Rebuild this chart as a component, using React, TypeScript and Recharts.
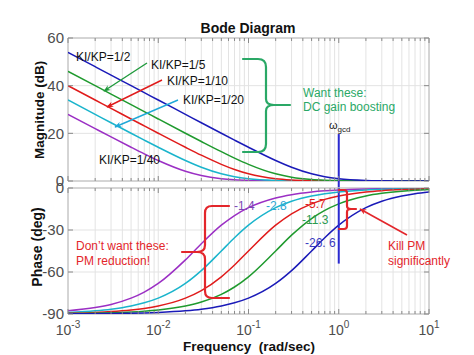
import React from 'react';
import { LineChart, Line, XAxis, YAxis, CartesianGrid, ReferenceLine, ReferenceArea } from 'recharts';

// ---------- data ----------
const freq = [0.001, 0.002, 0.003, 0.005, 0.007, 0.01, 0.02, 0.03, 0.05, 0.07, 0.1, 0.2, 0.3, 0.5, 0.7, 1, 2, 3, 5, 7, 10];

const magHalf = [53.98, 47.96, 44.44, 40.0, 37.08, 33.98, 27.97, 24.45, 20.04, 17.16, 14.15, 8.6, 5.77, 3.01, 1.79, 0.97, 0.26, 0.12, 0.04, 0.02, 0.01];
const magFifth = [46.02, 40.0, 36.48, 32.05, 29.13, 26.03, 20.04, 16.58, 12.3, 9.62, 6.99, 3.01, 1.6, 0.64, 0.34, 0.17, 0.04, 0.02, 0.01, 0.0, 0.0];
const magTenth = [40.0, 33.98, 30.47, 26.03, 23.12, 20.04, 14.15, 10.83, 6.99, 4.83, 3.01, 0.97, 0.46, 0.17, 0.09, 0.04, 0.01, 0.0, 0.0, 0.0, 0.0];
const magTwentieth = [33.98, 27.97, 24.45, 20.04, 17.16, 14.15, 8.6, 5.77, 3.01, 1.79, 0.97, 0.26, 0.12, 0.04, 0.02, 0.01, 0.0, 0.0, 0.0, 0.0, 0.0];
const magFortieth = [27.97, 21.97, 18.48, 14.15, 11.38, 8.6, 4.09, 2.29, 0.97, 0.52, 0.26, 0.07, 0.03, 0.01, 0.01, 0.0, 0.0, 0.0, 0.0, 0.0, 0.0];

const phaseHalf = [-89.89, -89.77, -89.66, -89.43, -89.2, -88.85, -87.71, -86.57, -84.29, -82.03, -78.69, -68.2, -59.04, -45.0, -35.54, -26.57, -14.04, -9.46, -5.71, -4.09, -2.86];
const phaseFifth = [-89.71, -89.43, -89.14, -88.57, -88.0, -87.14, -84.29, -81.47, -75.96, -70.71, -63.43, -45.0, -33.69, -21.8, -15.95, -11.31, -5.71, -3.81, -2.29, -1.64, -1.15];
const phaseTenth = [-89.43, -88.85, -88.28, -87.14, -86.0, -84.29, -78.69, -73.3, -63.43, -55.01, -45.0, -26.57, -18.43, -11.31, -8.13, -5.71, -2.86, -1.91, -1.15, -0.82, -0.57];
const phaseTwentieth = [-88.85, -87.71, -86.57, -84.29, -82.03, -78.69, -68.2, -59.04, -45.0, -35.54, -26.57, -14.04, -9.46, -5.71, -4.09, -2.86, -1.43, -0.95, -0.57, -0.41, -0.29];
const phaseFortieth = [-87.71, -85.43, -83.16, -78.69, -74.36, -68.2, -51.34, -39.81, -26.57, -19.65, -14.04, -7.13, -4.76, -2.86, -2.05, -1.43, -0.72, -0.48, -0.29, -0.2, -0.14];

const seriesKeys = ['fortieth', 'twentieth', 'tenth', 'fifth', 'half'];
const seriesColors = ['#9b2fc4', '#1ab4cc', '#e01b1b', '#1f9a2e', '#1a1ab8'];

const gridTicks = [
  0.001, 0.002, 0.003, 0.004, 0.005, 0.006, 0.007, 0.008, 0.009,
  0.01, 0.02, 0.03, 0.04, 0.05, 0.06, 0.07, 0.08, 0.09,
  0.1, 0.2, 0.3, 0.4, 0.5, 0.6, 0.7, 0.8, 0.9,
  1, 2, 3, 4, 5, 6, 7, 8, 9, 10,
];
const decadeTicks = [0.001, 0.01, 0.1, 1, 10];
const decadeExponents = ['-3', '-2', '-1', '0', '1'];
const magTicks = [0, 20, 40, 60];
const phaseTicks = [-90, -60, -30, 0];

const magData = freq.map((w, i) => ({
  w,
  half: magHalf[i],
  fifth: magFifth[i],
  tenth: magTenth[i],
  twentieth: magTwentieth[i],
  fortieth: magFortieth[i],
}));
const phaseData = freq.map((w, i) => ({
  w,
  half: phaseHalf[i],
  fifth: phaseFifth[i],
  tenth: phaseTenth[i],
  twentieth: phaseTwentieth[i],
  fortieth: phaseFortieth[i],
}));

// ---------- styling ----------
const FONT = '"Liberation Sans", Arial, Helvetica, sans-serif';
const TICK = '#8a8a8a';
const LABEL = '#4d4d4d';
const GRID = '#e3e3e3';
const FRAME = '#b8b8b8';
const PLOT_W = 361;
const MAG_H = 143;
const PH_H = 126;
const GREEN_NOTE = '#2aa866';
const RED_NOTE = '#e3262b';
const GCD = '#2a2ad0';

function makeXTick(plotH: number, showLabel: boolean) {
  return (props: any) => {
    const { x, y, payload } = props;
    const v = payload.value;
    const di = decadeTicks.indexOf(v);
    const len = di >= 0 ? 5 : 3;
    return (
      <g>
        <line x1={x} x2={x} y1={y} y2={y - len} stroke={TICK} />
        <line x1={x} x2={x} y1={y - plotH} y2={y - plotH + len} stroke={TICK} />
        {showLabel && di >= 0 && (
          <text x={x} y={y + 21} textAnchor="middle" fill={LABEL} fontSize={14} fontFamily={FONT}>
            10
            <tspan dy={-7} fontSize={10}>
              {decadeExponents[di]}
            </tspan>
          </text>
        )}
      </g>
    );
  };
}

function makeYTick() {
  return (props: any) => {
    const { x, y, payload } = props;
    return (
      <g>
        <line x1={x} x2={x + 5} y1={y} y2={y} stroke={TICK} />
        <line x1={x + PLOT_W - 5} x2={x + PLOT_W} y1={y} y2={y} stroke={TICK} />
        <text x={x - 4} y={y} dy="0.36em" textAnchor="end" fill={LABEL} fontSize={15} fontFamily={FONT}>
          {payload.value}
        </text>
      </g>
    );
  };
}

function renderLines() {
  return seriesKeys.map((k, i) => (
    <Line
      key={k}
      dataKey={k}
      type="monotone"
      stroke={seriesColors[i]}
      strokeWidth={1.5}
      dot={false}
      activeDot={false}
      isAnimationActive={false}
    />
  ));
}

const Brace = ({ d, color }: { d: string; color: string }) => (
  <path d={d} fill="none" stroke={color} strokeWidth={2.2} strokeLinecap="round" strokeLinejoin="round" />
);

export default function App() {
  return (
    <div style={{ position: 'absolute', left: 0, top: 0, width: 474, height: 355, background: '#fff', fontFamily: FONT }}>
      <div style={{ position: 'absolute', left: 0, top: 0 }}>
        <LineChart width={474} height={190} data={magData} margin={{ top: 38, right: 45, bottom: 0, left: 0 }}>
          <CartesianGrid stroke={GRID} strokeWidth={1} />
          <ReferenceArea x1={0.001} x2={10} y1={0} y2={60} fill="none" stroke={FRAME} ifOverflow="visible" />
          <XAxis
            dataKey="w"
            type="number"
            scale="log"
            domain={[0.001, 10]}
            allowDataOverflow
            ticks={gridTicks}
            interval={0}
            height={9}
            tickSize={0}
            tickMargin={0}
            axisLine={false}
            tickLine={false}
            tick={makeXTick(MAG_H, false)}
          />
          <YAxis
            type="number"
            domain={[0, 60]}
            allowDataOverflow
            ticks={magTicks}
            interval={0}
            width={68}
            tickSize={0}
            tickMargin={0}
            axisLine={false}
            tickLine={false}
            tick={makeYTick()}
          />
          {renderLines()}
          <ReferenceLine
            segment={[{ x: 1, y: 19.7 }, { x: 1, y: -3 }]}
            stroke={GCD}
            strokeWidth={2}
            ifOverflow="visible"
          />
        </LineChart>
      </div>
      <div style={{ position: 'absolute', left: 0, top: 0 }}>
        <LineChart width={474} height={355} data={phaseData} margin={{ top: 188, right: 45, bottom: 0, left: 0 }}>
          <CartesianGrid stroke={GRID} strokeWidth={1} />
          <ReferenceArea x1={0.001} x2={10} y1={-90} y2={0} fill="none" stroke={FRAME} ifOverflow="visible" />
          <XAxis
            dataKey="w"
            type="number"
            scale="log"
            domain={[0.001, 10]}
            allowDataOverflow
            ticks={gridTicks}
            interval={0}
            height={41}
            tickSize={0}
            tickMargin={0}
            axisLine={false}
            tickLine={false}
            tick={makeXTick(PH_H, true)}
          />
          <YAxis
            type="number"
            domain={[-90, 0]}
            allowDataOverflow
            ticks={phaseTicks}
            interval={0}
            width={68}
            tickSize={0}
            tickMargin={0}
            axisLine={false}
            tickLine={false}
            tick={makeYTick()}
          />
          {renderLines()}
          <ReferenceLine
            segment={[{ x: 1, y: 0 }, { x: 1, y: -54 }]}
            stroke={GCD}
            strokeWidth={2}
            ifOverflow="visible"
          />
        </LineChart>
      </div>
      <svg
        width={474}
        height={355}
        style={{ position: 'absolute', left: 0, top: 0, pointerEvents: 'none' }}
        fontFamily={FONT}
      >
        <defs>
          {[
            ['arrGreen', '#1f9a3c'],
            ['arrRed', '#e01b1b'],
            ['arrCyan', '#1fa8d8'],
            ['arrNote', RED_NOTE],
          ].map(([id, c]) => (
            <marker key={id} id={id} viewBox="0 0 10 10" refX="9" refY="5" markerWidth="7" markerHeight="7" orient="auto-start-reverse" markerUnits="userSpaceOnUse">
              <path d="M0,1 L10,5 L0,9 L3,5 z" fill={c} />
            </marker>
          ))}
        </defs>

        {/* title & axis labels */}
        <text x={248} y={33} textAnchor="middle" fontSize={14} fontWeight="bold" fill="#111">
          Bode Diagram
        </text>
        <text transform="translate(39,110) rotate(-90)" textAnchor="middle" dy="0.36em" fontSize={13.5} fontWeight="bold" fill="#111">
          Magnitude (dB)
        </text>
        <text transform="translate(37,247) rotate(-90)" textAnchor="middle" dy="0.36em" fontSize={14} fontWeight="bold" fill="#111">
          Phase (deg)
        </text>
        <text x={249} y={351} textAnchor="middle" fontSize={13.5} fontWeight="bold" fill="#111" style={{ whiteSpace: 'pre' }}>
          {'Frequency  (rad/sec)'}
        </text>

        {/* KI/KP labels */}
        <g fontSize={12} fill="#111">
          <text x={76} y={61}>KI/KP=1/2</text>
          <text x={151} y={69}>KI/KP=1/5</text>
          <text x={167} y={85}>KI/KP=1/10</text>
          <text x={183} y={104}>KI/KP=1/20</text>
          <text x={99} y={164}>KI/KP=1/40</text>
        </g>
        <line x1={147} y1={63} x2={104} y2={91} stroke="#1f9a3c" strokeWidth={1.4} markerEnd="url(#arrGreen)" />
        <line x1={162} y1={80} x2={107} y2={107} stroke="#e01b1b" strokeWidth={1.4} markerEnd="url(#arrRed)" />
        <line x1={178} y1={100} x2={115} y2={127} stroke="#1fa8d8" strokeWidth={1.4} markerEnd="url(#arrCyan)" />

        {/* green brace */}
        <Brace
          color={GREEN_NOTE}
          d="M243,59 L258,59 Q266,59 266,67 L266,99 Q266,105 274,105 L290,105 M274,105 Q266,105 266,111 L266,144 Q266,152 258,152 L243,152"
        />
        <g fontSize={12} fill={GREEN_NOTE}>
          <text x={303} y={97}>Want these:</text>
          <text x={303} y={111}>DC gain boosting</text>
        </g>

        {/* omega gcd */}
        <text x={329} y={129} fontSize={11} fill="#222">
          ω<tspan dy={3} fontSize={8}>gcd</tspan>
        </text>

        {/* red brace in phase plot */}
        <Brace
          color={RED_NOTE}
          d="M229,206 L212,206 Q205,206 205,213 L205,245 Q205,252 197,252 L182,252 M197,252 Q205,252 205,259 L205,291 Q205,298 212,298 L229,298"
        />
        <g fontSize={12} fill={RED_NOTE}>
          <text x={76} y={250}>Don’t want these:</text>
          <text x={76} y={265}>PM reduction!</text>
        </g>

        {/* small red bracket near omega_gcd */}
        <Brace
          color={RED_NOTE}
          d="M339,190 L344,190 Q347,190 347,193 L347,206 Q347,209 351,209 L356,209 M351,209 Q347,209 347,212 L347,226 Q347,229 344,229 L339,229"
        />
        <line x1={407} y1={235} x2={360} y2={209} stroke={RED_NOTE} strokeWidth={1.6} markerEnd="url(#arrNote)" />
        <g fontSize={12} fill={RED_NOTE}>
          <text x={388} y={250}>Kill PM</text>
          <text x={388} y={265}>significantly</text>
        </g>

        {/* phase values at omega_gcd */}
        <g fontSize={12}>
          <text x={234} y={210} fill="#7a47b5">-1.4</text>
          <text x={266} y={210} fill="#2fa7d4">-2.8</text>
          <text x={305} y={208} fill="#e01b1b">-5.7</text>
          <text x={302} y={224} fill="#2a9a50">-11.3</text>
          <text x={305} y={247} fill="#3a3ac0">-26. 6</text>
        </g>
      </svg>
    </div>
  );
}
